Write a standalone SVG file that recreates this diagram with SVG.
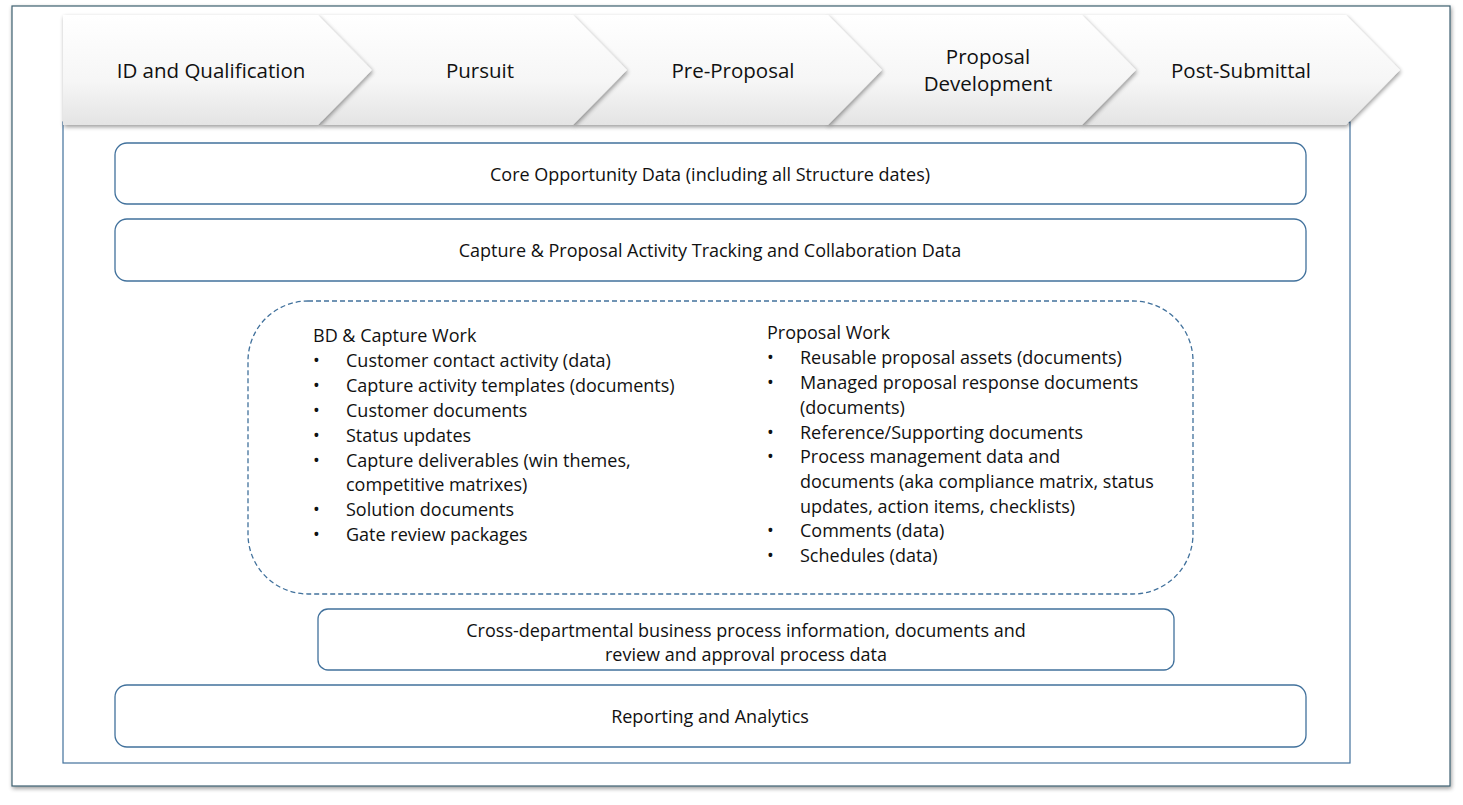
<svg xmlns="http://www.w3.org/2000/svg" width="1463" height="805" viewBox="0 0 1463 805">
<defs>
<linearGradient id="cg" x1="0" y1="0" x2="0" y2="1"><stop offset="0" stop-color="#ffffff"/><stop offset="0.6" stop-color="#f6f6f6"/><stop offset="1" stop-color="#e4e4e4"/></linearGradient>
<filter id="sh" x="-5%" y="-5%" width="110%" height="120%"><feGaussianBlur in="SourceAlpha" stdDeviation="2"/><feOffset dx="1" dy="2"/><feComponentTransfer><feFuncA type="linear" slope="0.4"/></feComponentTransfer><feMerge><feMergeNode/><feMergeNode in="SourceGraphic"/></feMerge></filter>
</defs>
<style>
text{font-family:"Open Sans","Liberation Sans",sans-serif;fill:#111}
.ch{font-size:20.5px;text-anchor:middle}
.bx{fill:#fff;stroke:#41719c;stroke-width:1.3}
.t{font-size:18px;text-anchor:middle}
.l{font-size:18px}
</style>
<rect x="12" y="6" width="1438" height="780" fill="#fff" stroke="#3e6070" stroke-width="1.2" filter="url(#sh)"/>
<rect x="63" y="122" width="1287" height="641" fill="#fff" stroke="#41719c" stroke-width="1.2"/>
<g id="chevrons">
<g id="c5"><path d="M1081,15 H1346 L1400,70 L1346,125 H1081 L1135,70 Z" fill="url(#cg)" filter="url(#sh)"/><text class="ch" x="1241" y="78">Post-Submittal</text></g>
<g id="c4"><path d="M826,15 H1082 L1136,70 L1082,125 H826 L880,70 Z" fill="url(#cg)" filter="url(#sh)"/><text class="ch" x="988" y="64">Proposal</text><text class="ch" x="988" y="91">Development</text></g>
<g id="c3"><path d="M572,15 H828 L882,70 L828,125 H572 L626,70 Z" fill="url(#cg)" filter="url(#sh)"/><text class="ch" x="733" y="78">Pre-Proposal</text></g>
<g id="c2"><path d="M318,15 H573 L627,70 L573,125 H318 L372,70 Z" fill="url(#cg)" filter="url(#sh)"/><text class="ch" x="480" y="78">Pursuit</text></g>
<g id="c1"><path d="M63,15 H318 L372,70 L318,125 H63 Z" fill="url(#cg)" filter="url(#sh)"/><text class="ch" x="211" y="78">ID and Qualification</text></g>
</g>
<g id="n1"><rect class="bx" x="115" y="143" width="1191" height="61" rx="12"/><text class="t" x="710" y="181">Core Opportunity Data (including all Structure dates)</text></g>
<g id="n2"><rect class="bx" x="115" y="219" width="1191" height="62" rx="12"/><text class="t" x="710" y="257">Capture &amp; Proposal Activity Tracking and Collaboration Data</text></g>
<g id="n3"><rect x="248" y="301" width="945" height="293" rx="60" fill="#fff" stroke="#41719c" stroke-width="1.3" stroke-dasharray="5,3"/>
<text class="l" x="313" y="342">BD &amp; Capture Work</text>
<text class="l" x="313" y="367">•</text><text class="l" x="346" y="367">Customer contact activity (data)</text>
<text class="l" x="313" y="392">•</text><text class="l" x="346" y="392">Capture activity templates (documents)</text>
<text class="l" x="313" y="417">•</text><text class="l" x="346" y="417">Customer documents</text>
<text class="l" x="313" y="442">•</text><text class="l" x="346" y="442">Status updates</text>
<text class="l" x="313" y="467">•</text><text class="l" x="346" y="467">Capture deliverables (win themes,</text>
<text class="l" x="346" y="491">competitive matrixes)</text>
<text class="l" x="313" y="516">•</text><text class="l" x="346" y="516">Solution documents</text>
<text class="l" x="313" y="541">•</text><text class="l" x="346" y="541">Gate review packages</text>
<text class="l" x="767" y="339">Proposal Work</text>
<text class="l" x="767" y="364">•</text><text class="l" x="800" y="364">Reusable proposal assets (documents)</text>
<text class="l" x="767" y="389">•</text><text class="l" x="800" y="389">Managed proposal response documents</text>
<text class="l" x="800" y="414">(documents)</text>
<text class="l" x="767" y="439">•</text><text class="l" x="800" y="439">Reference/Supporting documents</text>
<text class="l" x="767" y="463">•</text><text class="l" x="800" y="463">Process management data and</text>
<text class="l" x="800" y="488">documents (aka compliance matrix, status</text>
<text class="l" x="800" y="513">updates, action items, checklists)</text>
<text class="l" x="767" y="537">•</text><text class="l" x="800" y="537">Comments (data)</text>
<text class="l" x="767" y="562">•</text><text class="l" x="800" y="562">Schedules (data)</text>
</g>
<g id="n4"><rect class="bx" x="318" y="609" width="856" height="61" rx="10"/><text class="t" x="746" y="637">Cross-departmental business process information, documents and</text><text class="t" x="746" y="661">review and approval process data</text></g>
<g id="n5"><rect class="bx" x="115" y="685" width="1191" height="62" rx="12"/><text class="t" x="710" y="723">Reporting and Analytics</text></g>
<g id="connectors"/>
</svg>
